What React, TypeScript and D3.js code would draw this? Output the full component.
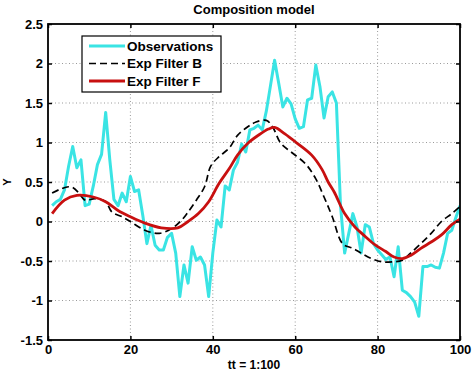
import * as d3 from 'd3';
import { useEffect, useRef } from 'react';

// Observations, one value for each tt = 1..100
const observations: number[] = [
  0.2, 0.25, 0.28, 0.4, 0.7, 0.95, 0.68, 0.78, 0.2, 0.22,
  0.45, 0.72, 0.85, 1.38, 0.78, 0.28, 0.2, 0.36, 0.25, 0.57,
  0.38, 0.4, 0.08, -0.28, -0.05, -0.3, -0.36, -0.36, -0.2, -0.15,
  -0.4, -0.95, -0.55, -0.78, -0.32, -0.49, -0.45, -0.55, -0.95, -0.4,
  0.02, -0.07, 0.45, 0.4, 0.65, 0.75, 0.98, 0.88, 1.16, 1.18,
  1.22, 1.16, 1.4, 1.72, 2.04, 1.75, 1.45, 1.56, 1.49, 1.3,
  1.18, 1.2, 1.54, 1.56, 1.98, 1.71, 1.31, 1.58, 1.64, 1.5,
  0.2, -0.4, -0.15, 0.1, -0.07, -0.4, -0.04, -0.07, -0.28, -0.36,
  -0.42, -0.48, -0.45, -0.7, -0.32, -0.87, -0.9, -0.95, -1.02, -1.2,
  -0.57, -0.57, -0.55, -0.58, -0.59, -0.4, -0.15, -0.11, 0.05, 0.2,
];

// Filter curves read as [tt, value] points
const filterB: [number, number][] = [
  [1, 0.36], [3, 0.41], [5, 0.44], [6, 0.43], [7.5, 0.36], [9, 0.27],
  [11.5, 0.29], [14, 0.25], [15.5, 0.12], [18, 0.06], [20, 0.0],
  [23.5, -0.11], [27, -0.15], [30, -0.09], [32.5, 0.02], [34, 0.12],
  [36, 0.27], [38, 0.44], [39.5, 0.7], [41.5, 0.82], [44, 0.93],
  [46, 1.09], [48.5, 1.2], [50.5, 1.26], [53, 1.28], [54.5, 1.2],
  [56.5, 0.99], [59, 0.88], [62.5, 0.73], [65, 0.54], [67, 0.31],
  [69, 0.06], [71.5, -0.28], [74, -0.34], [76, -0.4], [78.5, -0.47],
  [81, -0.51], [83.5, -0.51], [86, -0.49], [88, -0.4], [90.5, -0.28],
  [93, -0.15], [95.5, 0.0], [98, 0.1], [100, 0.19],
];

const filterF: [number, number][] = [
  [1, 0.1], [4, 0.27], [7, 0.33], [11, 0.31], [14, 0.25], [17, 0.14],
  [20, 0.06], [23.5, -0.02], [27.5, -0.08], [31.5, -0.08], [34, 0.0],
  [36.5, 0.1], [39, 0.25], [41.5, 0.48], [44, 0.67], [46, 0.84],
  [48.5, 0.99], [51, 1.09], [53.5, 1.17], [55, 1.19], [57.5, 1.11],
  [60.5, 0.99], [64, 0.84], [66.5, 0.66], [68, 0.5], [69.5, 0.37],
  [72, 0.1], [74.5, -0.07], [77, -0.19], [79.5, -0.3], [82, -0.38],
  [84, -0.45], [86, -0.47], [88, -0.43], [90.5, -0.34], [93, -0.26],
  [95.5, -0.17], [98, -0.04], [100, 0.03],
];

const xTicks = [0, 20, 40, 60, 80, 100];
const yTicks = [-1.5, -1, -0.5, 0, 0.5, 1, 1.5, 2, 2.5];
const legendLabels = ['Observations', 'Exp Filter B', 'Exp Filter F'];

export default function App() {
  const chartRef = useRef<SVGSVGElement>(null);

  const width = 474;
  const height = 372;
  const margin = { top: 24, bottom: 32, left: 48, right: 14 };
  const font = 'Liberation Sans, Arial, sans-serif';

  useEffect(() => {
    const svg = d3.select(chartRef.current);
    svg.selectAll('*').remove();

    const xScale = d3.scaleLinear().domain([0, 100]).range([margin.left, width - margin.right]);
    const yScale = d3.scaleLinear().domain([-1.5, 2.5]).range([height - margin.bottom, margin.top]);
    const [x0, x1] = xScale.range();
    const [y0, y1] = yScale.range();

    svg.append('rect').attr('width', width).attr('height', height).attr('fill', '#fff');

    // dotted grid
    const grid = svg.append('g').attr('stroke', '#9a9a9a').attr('stroke-width', 1).attr('stroke-dasharray', '1 2.5');
    grid.selectAll('.gx').data(xTicks.slice(1, -1)).enter().append('line')
      .attr('x1', (d) => xScale(d)).attr('x2', (d) => xScale(d))
      .attr('y1', y1).attr('y2', y0);
    grid.selectAll('.gy').data(yTicks.slice(1, -1)).enter().append('line')
      .attr('y1', (d) => yScale(d)).attr('y2', (d) => yScale(d))
      .attr('x1', x0).attr('x2', x1);

    // clip lines to the plot box
    svg.append('clipPath').attr('id', 'plotClip').append('rect')
      .attr('x', x0).attr('y', y1).attr('width', x1 - x0).attr('height', y0 - y1);

    const plot = svg.append('g').attr('clip-path', 'url(#plotClip)');

    const obsLine = d3.line<number>()
      .x((d, i) => xScale(i + 1))
      .y((d) => yScale(d));
    const smoothLine = d3.line<[number, number]>()
      .x((d) => xScale(d[0]))
      .y((d) => yScale(d[1]))
      .curve(d3.curveCatmullRom);

    plot.append('path').datum(observations).attr('d', obsLine)
      .attr('fill', 'none').attr('stroke', '#3ae4e4').attr('stroke-width', 3).attr('stroke-linejoin', 'round');
    plot.append('path').datum(filterB).attr('d', smoothLine)
      .attr('fill', 'none').attr('stroke', '#000').attr('stroke-width', 1.7).attr('stroke-dasharray', '7 4');
    plot.append('path').datum(filterF).attr('d', smoothLine)
      .attr('fill', 'none').attr('stroke', '#c81010').attr('stroke-width', 2.8);

    // axes with inward ticks, like MATLAB
    const fmt = (d: d3.NumberValue) => String(d);
    const styleAxis = (g: d3.Selection<SVGGElement, unknown, null, undefined>) => {
      g.select('.domain').remove();
      g.selectAll('line').attr('stroke', '#000').attr('stroke-width', 1.5);
      g.selectAll('text').attr('font-family', font).attr('font-size', 13).attr('font-weight', 'bold').attr('fill', '#000');
    };

    svg.append('g').attr('transform', `translate(${x0},0)`)
      .call(d3.axisLeft(yScale).tickValues(yTicks).tickFormat(fmt).tickSize(-4).tickPadding(5))
      .call(styleAxis);
    svg.append('g').attr('transform', `translate(${x1},0)`)
      .call(d3.axisRight(yScale).tickValues(yTicks).tickFormat(() => '').tickSize(-4))
      .call(styleAxis);
    svg.append('g').attr('transform', `translate(0,${y0})`)
      .call(d3.axisBottom(xScale).tickValues(xTicks).tickFormat(fmt).tickSize(-4).tickPadding(5))
      .call(styleAxis);
    svg.append('g').attr('transform', `translate(0,${y1})`)
      .call(d3.axisTop(xScale).tickValues(xTicks).tickFormat(() => '').tickSize(-4))
      .call(styleAxis);

    // plot box
    svg.append('rect').attr('x', x0).attr('y', y1).attr('width', x1 - x0).attr('height', y0 - y1)
      .attr('fill', 'none').attr('stroke', '#000').attr('stroke-width', 1.8);

    // title and axis labels
    svg.append('text').text('Composition model')
      .attr('x', (x0 + x1) / 2).attr('y', 14).attr('text-anchor', 'middle')
      .attr('font-family', font).attr('font-size', 13).attr('font-weight', 'bold');
    svg.append('text').text('tt = 1:100')
      .attr('x', (x0 + x1) / 2).attr('y', 369).attr('text-anchor', 'middle')
      .attr('font-family', font).attr('font-size', 12).attr('font-weight', 'bold');
    svg.append('text').text('Y')
      .attr('transform', `translate(11,${(y0 + y1) / 2}) rotate(-90)`).attr('text-anchor', 'middle')
      .attr('font-family', font).attr('font-size', 11).attr('font-weight', 'bold');

    // legend
    const legend = svg.append('g').attr('transform', 'translate(82,36)');
    legend.append('rect').attr('width', 139).attr('height', 56)
      .attr('fill', '#fff').attr('stroke', '#000').attr('stroke-width', 1.2);
    const legendStyles = [
      { stroke: '#3ae4e4', width: 3, dash: null },
      { stroke: '#000', width: 1.7, dash: '7 4' },
      { stroke: '#c81010', width: 2.8, dash: null },
    ];
    legendLabels.forEach((label, i) => {
      const y = 10 + i * 17.5;
      legend.append('line').attr('x1', 7).attr('x2', 43).attr('y1', y).attr('y2', y)
        .attr('stroke', legendStyles[i].stroke).attr('stroke-width', legendStyles[i].width)
        .attr('stroke-dasharray', legendStyles[i].dash);
      legend.append('text').text(label).attr('x', 45).attr('y', y + 4.5)
        .attr('font-family', font).attr('font-size', 13.5).attr('font-weight', 'bold');
    });
  }, []);

  return (
    <svg
      width={width}
      height={height}
      ref={chartRef}
      style={{ position: 'absolute', left: 0, top: 0 }}
    />
  );
}
